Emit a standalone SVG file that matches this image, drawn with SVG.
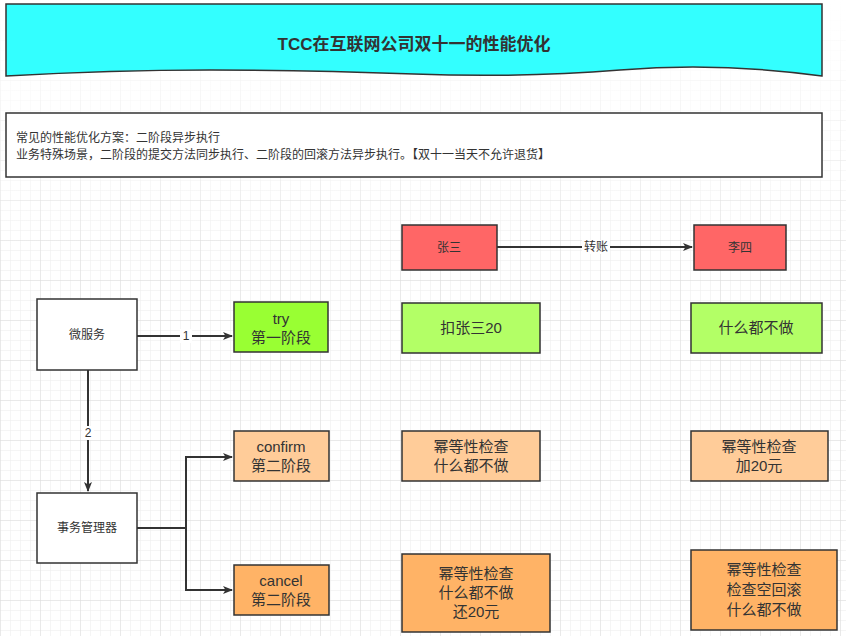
<svg xmlns="http://www.w3.org/2000/svg" width="846" height="636" viewBox="0 0 846 636">
<defs>
<pattern id="g" width="10" height="10" patternUnits="userSpaceOnUse"><path d="M10 0H0V10" fill="none" stroke="#ececec" stroke-width="1"/></pattern>
<pattern id="G" width="40" height="40" patternUnits="userSpaceOnUse"><rect width="40" height="40" fill="url(#g)"/><path d="M40 0H0V40" fill="none" stroke="#dcdcdc" stroke-width="1"/></pattern>
<marker id="a" markerWidth="10" markerHeight="10" refX="9" refY="5" orient="auto" markerUnits="userSpaceOnUse"><path d="M0 1L10 5L0 9L2.5 5Z" fill="#333"/></marker>
<linearGradient id="fade" x1="0" y1="0" x2="0" y2="1"><stop offset="0" stop-color="#fff" stop-opacity="1"/><stop offset="1" stop-color="#fff" stop-opacity="0"/></linearGradient>
</defs>
<style>
.b{stroke:#333;stroke-width:1.5}
.t{font-family:"Liberation Sans","Noto Sans CJK SC",sans-serif;fill:#333;text-anchor:middle}
.s{font-size:12px}.m{font-size:15px}
.c{fill:none;stroke:#333;stroke-width:2;marker-end:url(#a)}
.lb{font-family:"Liberation Sans","Noto Sans CJK SC",sans-serif;font-size:12px;fill:#333;text-anchor:middle}
</style>
<rect width="846" height="636" fill="#fff"/>
<rect width="846" height="636" fill="url(#G)"/>
<rect width="846" height="260" fill="url(#fade)"/>
<g id="banner"><path d="M6 4H822V76Q720 62 620 70T414 74T210 70T6 76Z" fill="#33ffff" class="b"/>
<text x="414" y="50" class="t" style="font-size:17px;font-weight:bold">TCC在互联网公司双十一的性能优化</text></g>
<g id="note"><rect x="6" y="113" width="816" height="64" fill="#fff" class="b"/>
<text x="16" y="142" class="t s" style="text-anchor:start">常见的性能优化方案：二阶段异步执行</text>
<text x="16" y="159" class="t s" style="text-anchor:start">业务特殊场景，二阶段的提交方法同步执行、二阶段的回滚方法异步执行。【双十一当天不允许退货】</text></g>
<g id="connectors">
<path d="M497 247H692" class="c"/><rect x="582" y="240" width="28" height="14" fill="#fff"/><text x="596" y="251" class="lb">转账</text>
<path d="M137 336H232" class="c"/><rect x="180" y="329" width="12" height="14" fill="#fff"/><text x="186" y="340" class="lb">1</text>
<path d="M88 370V491" class="c"/><rect x="82" y="426" width="12" height="14" fill="#fff"/><text x="88" y="437" class="lb">2</text>
<path d="M137 528H186V457H232" class="c"/><path d="M186 528V590H232" class="c"/>
</g>
<g id="zhangsan"><rect x="402" y="225" width="95" height="45" fill="#ff6666" class="b"/><text x="449" y="252" class="t s">张三</text></g>
<g id="lisi"><rect x="694" y="225" width="92" height="45" fill="#ff6666" class="b"/><text x="740" y="252" class="t s">李四</text></g>
<g id="micro"><rect x="37" y="299" width="100" height="71" fill="#fff" class="b"/><text x="87" y="339" class="t s">微服务</text></g>
<g id="try"><rect x="234" y="302" width="94" height="50" fill="#99ff33" class="b"/><text x="281" y="324" class="t m">try</text><text x="281" y="343" class="t m">第一阶段</text></g>
<g id="kou"><rect x="402" y="303" width="138" height="50" fill="#b3ff66" class="b"/><text x="471" y="333" class="t m">扣张三20</text></g>
<g id="none1"><rect x="691" y="303" width="131" height="50" fill="#b3ff66" class="b"/><text x="756" y="333" class="t m">什么都不做</text></g>
<g id="tm"><rect x="37" y="493" width="100" height="70" fill="#fff" class="b"/><text x="87" y="532" class="t s">事务管理器</text></g>
<g id="confirm"><rect x="234" y="431" width="95" height="50" fill="#ffcc99" class="b"/><text x="281" y="452" class="t m">confirm</text><text x="281" y="471" class="t m">第二阶段</text></g>
<g id="cancel"><rect x="234" y="565" width="95" height="50" fill="#ffb366" class="b"/><text x="281" y="586" class="t m">cancel</text><text x="281" y="605" class="t m">第二阶段</text></g>
<g id="c1"><rect x="402" y="431" width="138" height="50" fill="#ffcc99" class="b"/><text x="471" y="452" class="t m">幂等性检查</text><text x="471" y="471" class="t m">什么都不做</text></g>
<g id="c2"><rect x="691" y="431" width="137" height="50" fill="#ffcc99" class="b"/><text x="759" y="452" class="t m">幂等性检查</text><text x="759" y="471" class="t m">加20元</text></g>
<g id="x1"><rect x="402" y="554" width="148" height="78" fill="#ffb366" class="b"/><text x="476" y="579" class="t m">幂等性检查</text><text x="476" y="598" class="t m">什么都不做</text><text x="476" y="617" class="t m">还20元</text></g>
<g id="x2"><rect x="691" y="550" width="146" height="80" fill="#ffb366" class="b"/><text x="764" y="575" class="t m">幂等性检查</text><text x="764" y="595" class="t m">检查空回滚</text><text x="764" y="615" class="t m">什么都不做</text></g>
</svg>
